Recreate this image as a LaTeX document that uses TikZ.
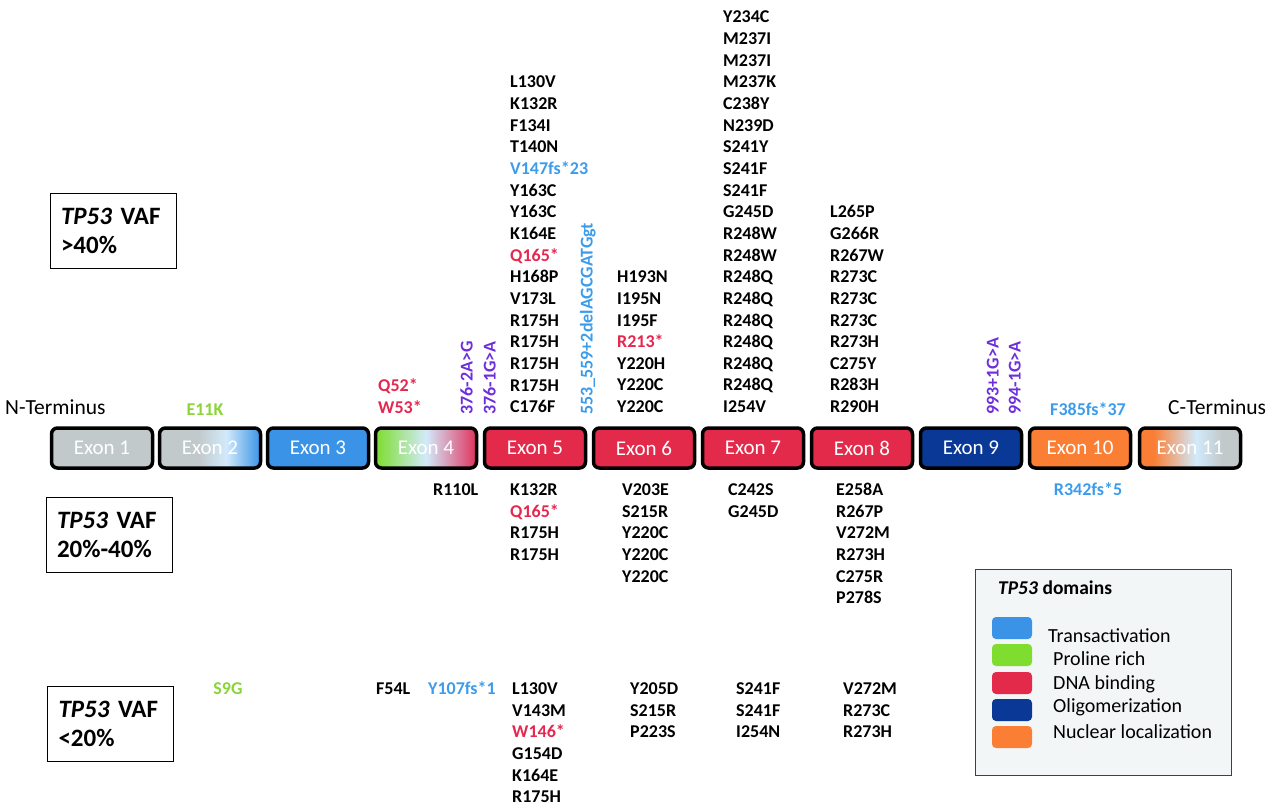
\documentclass[tikz,border=0pt]{standalone}
\usepackage{fontspec}
\setmainfont{Carlito}

\definecolor{exgrey}{HTML}{C2C9CB}
\definecolor{exblue}{HTML}{3A93E6}
\definecolor{exgreen}{HTML}{7EDD2E}
\definecolor{exred}{HTML}{E42A4B}
\definecolor{expink}{HTML}{E0325C}
\definecolor{exnavy}{HTML}{0A3896}
\definecolor{exorange}{HTML}{FA7F35}
\definecolor{exlight}{HTML}{D2EAFB}
\definecolor{mutgreen}{HTML}{8CD43A}
\definecolor{mutred}{HTML}{E4284F}
\definecolor{mutblue}{HTML}{3C9CEB}
\definecolor{mutpurple}{HTML}{6E2EDC}
\definecolor{legendbg}{HTML}{F3F6F7}

\pgfdeclarehorizontalshading{exontwo}{100bp}{color(0bp)=(exgrey); color(25bp)=(exgrey); color(44bp)=(exgrey); color(58bp)=(exlight); color(75bp)=(exblue); color(100bp)=(exblue)}
\pgfdeclarehorizontalshading{exonfour}{100bp}{color(0bp)=(exgreen); color(25bp)=(exgreen); color(50bp)=(exlight); color(75bp)=(expink); color(100bp)=(expink)}
\pgfdeclarehorizontalshading{exoneleven}{100bp}{color(0bp)=(exorange); color(25bp)=(exorange); color(32bp)=(exorange); color(53bp)=(exlight); color(66bp)=(exgrey); color(75bp)=(exgrey); color(100bp)=(exgrey)}

\newcommand{\mutfont}{\fontsize{18}{21}\selectfont\bfseries}
\newcommand{\vaffont}{\fontsize{25}{29}\selectfont\bfseries}

\tikzset{
  exon/.style={draw=black, line width=3.5pt, rounded corners=6pt, minimum width=101pt,
    minimum height=40pt, inner sep=0pt, text=white, font=\fontsize{21}{21}\selectfont},
  mut/.style={anchor=base west, inner sep=0pt, font=\mutfont},
  splice/.style={mut, rotate=90, text=mutpurple},
  term/.style={anchor=west, inner sep=0pt, font=\fontsize{21.5}{24}\selectfont},
  vafbox/.style={draw, line width=1pt, align=left, inner xsep=11pt, text width=104pt,
    minimum height=75pt, font=\vaffont},
  swatch/.style={rounded corners=4pt, minimum width=40pt, minimum height=22pt, inner sep=0pt},
  legtext/.style={anchor=west, inner sep=0pt, font=\fontsize{20}{24}\selectfont}
}

\begin{document}
\begin{tikzpicture}[x=1pt, y=-1pt]
  \useasboundingbox (0,0) rectangle (1280,809);

  % exons
  \node[exon, fill=exgrey] (ex1) at (102,448) {Exon 1};
  \node[exon, shading=exontwo] (ex2) at (210,448) {Exon 2};
  \node[exon, fill=exblue] (ex3) at (318,448) {Exon 3};
  \node[exon, shading=exonfour] (ex4) at (426,448) {Exon 4};
  \node[exon, fill=exred] (ex5) at (535,448) {Exon 5};
  \node[exon, fill=exred] (ex6) at (644,448) {Exon 6};
  \node[exon, fill=exred] (ex7) at (753,448) {Exon 7};
  \node[exon, fill=exred] (ex8) at (862,448) {Exon 8};
  \node[exon, fill=exnavy] (ex9) at (971,448) {Exon 9};
  \node[exon, fill=exorange] (ex10) at (1080,448) {Exon 10};
  \node[exon, shading=exoneleven] (ex11) at (1190,448) {Exon 11};

  \node[term] (nterm) at (5,407) {N-Terminus};
  \node[term] (cterm) at (1168,407) {C-Terminus};

  % VAF labels
  \node[vafbox] (vafhigh) at (113,230.5) {\textit{TP53} VAF\\>40\%};
  \node[vafbox] (vafmid) at (109,534.5) {\textit{TP53} VAF\\20\%-40\%};
  \node[vafbox] (vaflow) at (110.5,724) {\textit{TP53} VAF\\<20\%};

  % VAF > 40%
  \node[mut, anchor=base, text=mutgreen] (hi-e11k) at (205,415.6) {E11K};
  \node[mut, text=mutred] (hi-q52) at (378,391.6) {Q52*};
  \node[mut, text=mutred] (hi-w53) at (378,413.6) {W53*};
  \node[splice] (hi-sp1) at (472.6,415) {376-2A>G};
  \node[splice] (hi-sp2) at (495.6,415) {376-1G>A};
  \node[mut, rotate=90, text=mutblue] (hi-del) at (592.6,415) {553\_559+2delAGCGATGgt};
  \node[splice] (hi-sp3) at (998.6,415) {993+1G>A};
  \node[splice] (hi-sp4) at (1020.6,415) {994-1G>A};
  \node[mut, anchor=base, text=mutblue] (hi-f385) at (1088,415.6) {F385fs*37};
  \foreach \txt/\clr [count=\i] in {L130V/black, K132R/black, F134I/black, T140N/black,
      V147fs*23/mutblue, Y163C/black, Y163C/black, K164E/black, Q165*/mutred, H168P/black,
      V173L/black, R175H/black, R175H/black, R175H/black, R175H/black, C176F/black}
    \node[mut, text=\clr] (hi5-\i) at (510,66.25+21.65*\i) {\txt};
  \foreach \txt/\clr [count=\i] in {H193N/black, I195N/black, I195F/black, R213*/mutred,
      Y220H/black, Y220C/black, Y220C/black}
    \node[mut, text=\clr] (hi6-\i) at (617,261.05+21.65*\i) {\txt};
  \foreach \txt [count=\i] in {Y234C, M237I, M237I, M237K, C238Y, N239D, S241Y, S241F, S241F,
      G245D, R248W, R248W, R248Q, R248Q, R248Q, R248Q, R248Q, R248Q, I254V}
    \node[mut] (hi7-\i) at (723,1.25+21.65*\i) {\txt};
  \foreach \txt [count=\i] in {L265P, G266R, R267W, R273C, R273C, R273C, R273H, C275Y, R283H, R290H}
    \node[mut] (hi8-\i) at (830,196.1+21.65*\i) {\txt};

  % VAF 20%-40%
  \node[mut] (md-r110) at (433,495.6) {R110L};
  \foreach \txt/\clr [count=\i] in {K132R/black, Q165*/mutred, R175H/black, R175H/black}
    \node[mut, text=\clr] (md5-\i) at (510,473.95+21.65*\i) {\txt};
  \foreach \txt [count=\i] in {V203E, S215R, Y220C, Y220C, Y220C}
    \node[mut] (md6-\i) at (622,473.95+21.65*\i) {\txt};
  \foreach \txt [count=\i] in {C242S, G245D}
    \node[mut] (md7-\i) at (728,473.95+21.65*\i) {\txt};
  \foreach \txt [count=\i] in {E258A, R267P, V272M, R273H, C275R, P278S}
    \node[mut] (md8-\i) at (836,473.95+21.65*\i) {\txt};
  \node[mut, anchor=base, text=mutblue] (md-r342) at (1088,495.6) {R342fs*5};

  % VAF < 20%
  \node[mut, anchor=base, text=mutgreen] (lo-s9g) at (228,694.6) {S9G};
  \node[mut] (lo-f54) at (376,694.6) {F54L};
  \node[mut, text=mutblue] (lo-y107) at (428,694.6) {Y107fs*1};
  \foreach \txt/\clr [count=\i] in {L130V/black, V143M/black, W146*/mutred, G154D/black,
      K164E/black, R175H/black}
    \node[mut, text=\clr] (lo5-\i) at (512,672.95+21.65*\i) {\txt};
  \foreach \txt [count=\i] in {Y205D, S215R, P223S}
    \node[mut] (lo6-\i) at (630,672.95+21.65*\i) {\txt};
  \foreach \txt [count=\i] in {S241F, S241F, I254N}
    \node[mut] (lo7-\i) at (736,672.95+21.65*\i) {\txt};
  \foreach \txt [count=\i] in {V272M, R273C, R273H}
    \node[mut] (lo8-\i) at (843,672.95+21.65*\i) {\txt};

  % legend
  \node[draw=black!75, line width=1pt, fill=legendbg, minimum width=256pt, minimum height=206pt,
    anchor=north west, inner sep=0pt] (legend) at (975,569) {};
  \node[anchor=west, inner sep=0pt, font=\fontsize{19.5}{22}\selectfont\bfseries] (legtitle) at (998,588) {\textit{TP53} domains};
  \node[swatch, fill=exblue] (sw1) at (1012,628) {};
  \node[swatch, fill=exgreen] (sw2) at (1012,655) {};
  \node[swatch, fill=exred] (sw3) at (1012,683) {};
  \node[swatch, fill=exnavy] (sw4) at (1012,710) {};
  \node[swatch, fill=exorange] (sw5) at (1012,737) {};
  \node[legtext] (lt1) at (1048,636) {Transactivation};
  \node[legtext] (lt2) at (1053,659) {Proline rich};
  \node[legtext] (lt3) at (1053,684) {DNA binding};
  \node[legtext] (lt4) at (1053,707) {Oligomerization};
  \node[legtext] (lt5) at (1053,732) {Nuclear localization};
\end{tikzpicture}
\end{document}
